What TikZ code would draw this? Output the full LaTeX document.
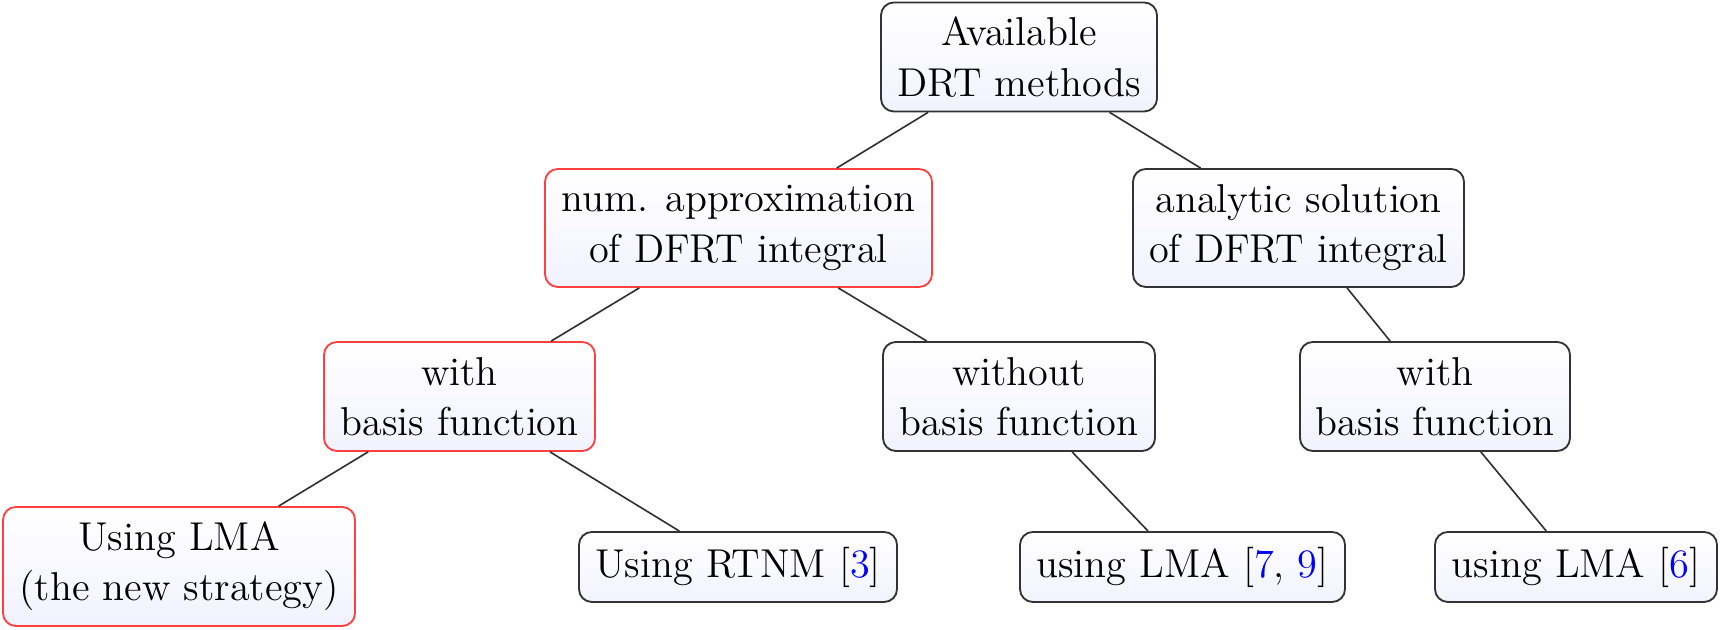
\documentclass[tikz,border=0pt]{standalone}
\usetikzlibrary{positioning}
\begin{document}
\begin{tikzpicture}[x=0.273pt,y=-0.273pt,
  box/.style={draw=black!80, rounded corners=3.5pt, top color=white, bottom color=blue!5,
    align=center, inner sep=0pt, font=\fontsize{11}{13.7}\selectfont, line width=0.5pt},
  redbox/.style={box, draw=red!75},
  two/.style={minimum height=109*0.273pt},
  one/.style={minimum height=70*0.273pt},
  conn/.style={draw=black!80, line width=0.45pt}]
\path[use as bounding box] (0,0) rectangle (1720,630);
\newcommand{\cn}[1]{\textcolor{blue}{#1}}
\node[box,two,minimum width=276*0.273pt] (root) at (1019,57) {Available\\DRT methods};
\node[redbox,minimum height=118*0.273pt,minimum width=387*0.273pt] (num) at (738.5,228) {num. approximation\\of DFRT integral};
\node[box,minimum height=118*0.273pt,minimum width=331*0.273pt] (ana) at (1298.5,228) {analytic solution\\of DFRT integral};
\node[redbox,two,minimum width=271*0.273pt] (wbl) at (459.5,396.5) {with\\basis function};
\node[box,two,minimum width=272*0.273pt] (wob) at (1019,396.5) {without\\basis function};
\node[box,two,minimum width=270*0.273pt] (wbr) at (1435,396.5) {with\\basis function};
\node[redbox,minimum height=119*0.273pt,minimum width=352*0.273pt] (lma) at (179,566.5) {Using LMA\\(the new strategy)};
\node[box,one,minimum width=318*0.273pt] (rtnm) at (738,567) {Using RTNM [\cn{3}]};
\node[box,one,minimum width=325*0.273pt] (lma79) at (1182.5,567) {using LMA [\cn{7}, \cn{9}]};
\node[box,one,minimum width=282*0.273pt] (lma6) at (1576,567) {using LMA [\cn{6}]};
\draw[conn] (root) -- (num);
\draw[conn] (root) -- (ana);
\draw[conn] (num) -- (wbl);
\draw[conn] (num) -- (wob);
\draw[conn] (ana) -- (wbr);
\draw[conn] (wbl) -- (lma);
\draw[conn] (wbl) -- (rtnm);
\draw[conn] (wob) -- (lma79);
\draw[conn] (wbr) -- (lma6);
\end{tikzpicture}
\end{document}
